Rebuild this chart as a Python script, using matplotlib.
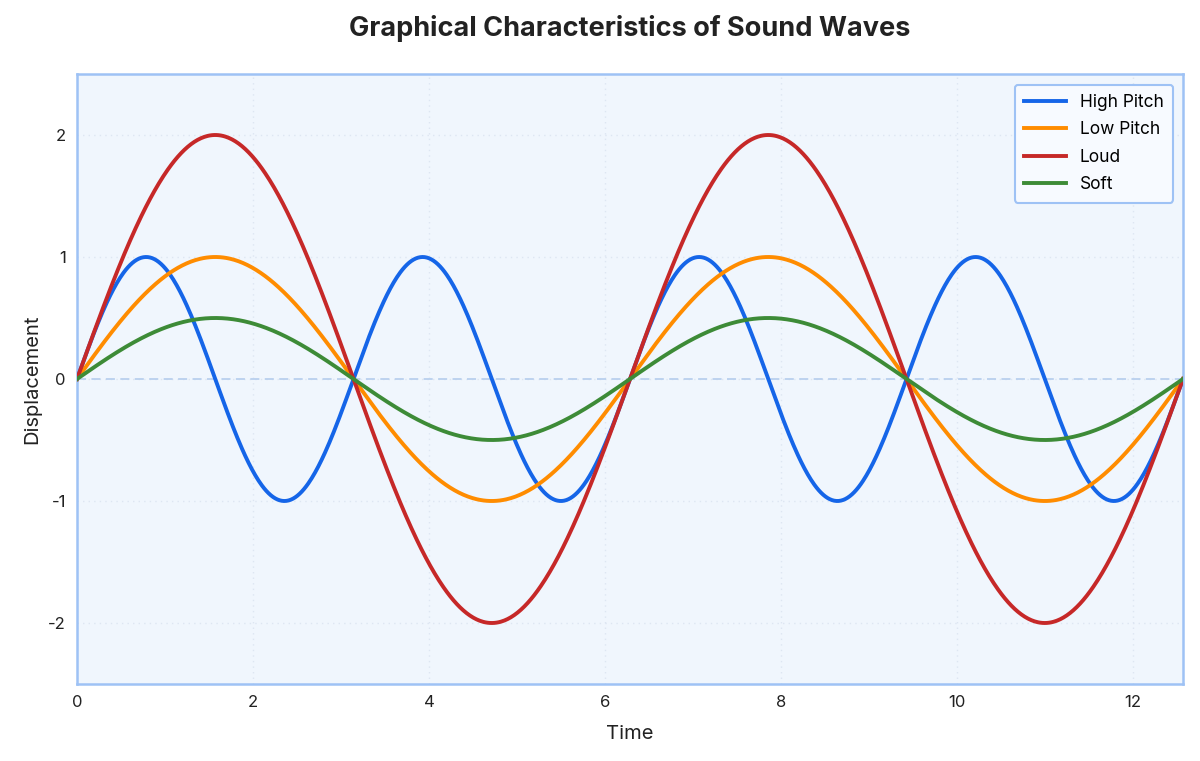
import numpy as np
import matplotlib
matplotlib.use("Agg")
import matplotlib.pyplot as plt

plt.rcParams['font.family'] = ['Inter', 'DejaVu Sans']

# Data: wave parameters
labels = ["High Pitch", "Low Pitch", "Loud", "Soft"]
amplitudes = [1.0, 1.0, 2.0, 0.5]
frequencies = [2.0, 1.0, 1.0, 1.0]   # cycles per 2*pi of time
colors = ["#1565e8", "#ff8c00", "#c62828", "#3d8b37"]
x_ticks = [0, 2, 4, 6, 8, 10, 12]
y_ticks = [-2, -1, 0, 1, 2]
y_ticklabels = ["-2", "-1", "0", "1", "2"]

t = np.linspace(0, 4 * np.pi, 1000)

fig = plt.figure(figsize=(12, 7.61), dpi=100)
ax = fig.add_axes([77/1200, 1 - 684/761, (1183-77)/1200, (684-74)/761])
ax.set_facecolor("#f0f6fd")

for lab, a, f, c in zip(labels, amplitudes, frequencies, colors):
    ax.plot(t, a * np.sin(f * t), color=c, lw=2.8, label=lab, zorder=3)

ax.axhline(0, color="#b9d0ee", lw=1.3, ls=(0, (5, 3)), zorder=2)

ax.set_xlim(0, 4 * np.pi)
ax.set_ylim(-2.5, 2.5)
ax.set_xticks(x_ticks)
ax.set_yticks(y_ticks)
ax.set_yticklabels(y_ticklabels)
ax.grid(True, color="#dde6f2", ls=(0, (1, 3)), lw=1.0, zorder=1)
for s in ax.spines.values():
    s.set_color("#9ec2f5")
    s.set_linewidth(1.8)
ax.tick_params(length=0, labelsize=12, colors="#222222", pad=8)

ax.set_xlabel("Time", fontsize=14.5, color="#222222", labelpad=11)
ax.set_ylabel("Displacement", fontsize=14.5, color="#222222", labelpad=5)
ax.set_title("Graphical Characteristics of Sound Waves", fontsize=19.5,
             fontweight="bold", color="#222222", pad=27)

leg = ax.legend(loc="upper right", fontsize=12.5, frameon=True,
                handlelength=2.4, borderpad=0.55, labelspacing=0.6,
                bbox_to_anchor=(0.999, 0.997))
leg.get_frame().set_edgecolor("#9ec2f5")
leg.get_frame().set_linewidth(1.5)
leg.get_frame().set_facecolor("#f7faff")
leg.get_frame().set_alpha(1.0)

fig.savefig("out.png", dpi=100, facecolor="white")
